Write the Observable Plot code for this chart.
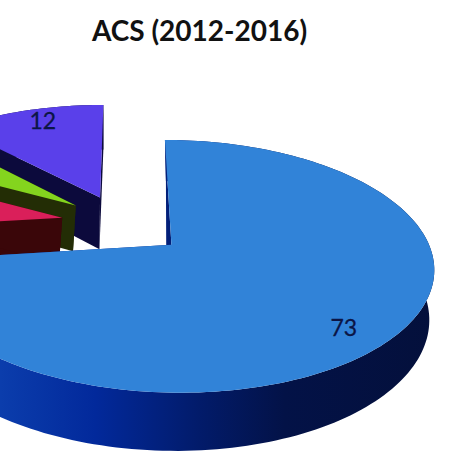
<!DOCTYPE html>
<html><head><meta charset="utf-8">
<style>html,body{margin:0;padding:0;background:#fff}svg{display:block}</style>
<script src="https://cdn.jsdelivr.net/npm/d3@7"></script>
<script src="https://cdn.jsdelivr.net/npm/@observablehq/plot@0.6"></script>
</head><body><div id="chart"></div>
<script>
// Data (clockwise from 12 o'clock)
const categories = ["Blue", "Pink", "Green", "Purple"];
const values = [73, 10, 5, 12];
const labels = ["73", "", "", "12"];
const title = "ACS (2012-2016)";
// Styles
const topColors = ["#3183d8", "#da1f5a", "#84d41e", "#5a40ea"];
const wallColors = ["url(#blueWall)", "#3a0609", "#232d05", "#0c0a3c"];
const explode = [0.23, 0.265, 0.26, 0.27];
const nudgeX = [0, 0, -1, -3];
const nudgeY = [0, -3, -3, -1];
const depths = [47, 47, 47, 54];
const leans = [0, 4, 4, 1];
const labelDx = [-14, 0, 0, 7];
const labelDy = [8, 0, 0, -1];
const drawOrder = [3, 2, 1, 0];
// Projection of the tilted pie
const cx = 126.5, cy = 226, A = 251, B = 116.5, persp = 0.167;

function project(a, r, i, mid, z, e) {
  const X = e * Math.sin(mid) + r * Math.sin(a);
  const Y = -e * Math.cos(mid) - r * Math.cos(a);
  const s = 1 / (1 - persp * Y);
  const lean = z * (i === 0 ? Math.max(-1, Math.min(5, 6 * Y + 4.1)) : leans[i] * Math.max(0, Y + 0.85));
  return {x: cx + A * X * s - lean + nudgeX[i], y: cy + (B * Y + depths[i] * z) * s + nudgeY[i]};
}
const total = d3.sum(values);
let acc = 0;
const slices = values.map((v, i) => {
  const a0 = acc / total * 2 * Math.PI;
  acc += v;
  const a1 = acc / total * 2 * Math.PI;
  return {i, a0, a1, mid: (a0 + a1) / 2, e: explode[i]};
});
const arc = (s, z) => {
  const n = Math.max(8, Math.round((s.a1 - s.a0) * 40));
  return d3.range(n + 1).map(k => project(s.a0 + (s.a1 - s.a0) * k / n, 1, s.i, s.mid, z, s.e));
};
const shapes = [];
for (const i of drawOrder) {
  const s = slices[i];
  const apexT = project(0, 0, i, s.mid, 0, s.e), apexB = project(0, 0, i, s.mid, 1, s.e);
  const t = arc(s, 0), b = arc(s, 1);
  shapes.push({pts: [t[0], apexT, apexB, b[0]], fill: wallColors[i]});
  shapes.push({pts: [t[t.length - 1], apexT, apexB, b[b.length - 1]], fill: wallColors[i]});
  shapes.push({pts: [...t, ...b.slice().reverse()], fill: wallColors[i]});
  shapes.push({pts: [apexT, ...t], fill: topColors[i]});
}
const labelRows = slices.filter(s => labels[s.i]).map(s => {
  const p = project(s.mid, 0.85, s.i, s.mid, 0, s.e);
  return {x: p.x + labelDx[s.i], y: p.y + labelDy[s.i], text: labels[s.i]};
});
const defs = () => {
  const d = d3.create("svg:defs");
  const g = d.append("linearGradient").attr("id", "blueWall")
    .attr("gradientUnits", "userSpaceOnUse").attr("x1", 0).attr("x2", 474).attr("y1", 0).attr("y2", 0);
  [[0, "#0b3dac"], [0.2, "#02299b"], [0.42, "#021b6a"], [0.6, "#031247"], [1, "#040f38"]]
    .forEach(([o, c]) => g.append("stop").attr("offset", o).attr("stop-color", c));
  return d.node();
};
const chart = Plot.plot({
  width: 474, height: 474, margin: 0,
  style: {background: "#fff"},
  x: {domain: [0, 474], range: [0, 474], axis: null},
  y: {domain: [0, 474], range: [0, 474], axis: null},
  marks: [
    defs,
    ...shapes.map(d => Plot.line(d.pts, {x: "x", y: "y", fill: d.fill, stroke: "none"})),
    Plot.text(labelRows, {x: "x", y: "y", text: "text", fontSize: 23, fontFamily: "Lato", fill: "#0b1545", stroke: "#0b1545", strokeWidth: 0.3}),
    Plot.text([title], {x: () => 199, y: () => 32, text: d => d, fontSize: 28, fontWeight: 700, fontFamily: "Lato", fill: "#111"})
  ]
});
document.getElementById("chart").append(chart);
</script></body></html>
